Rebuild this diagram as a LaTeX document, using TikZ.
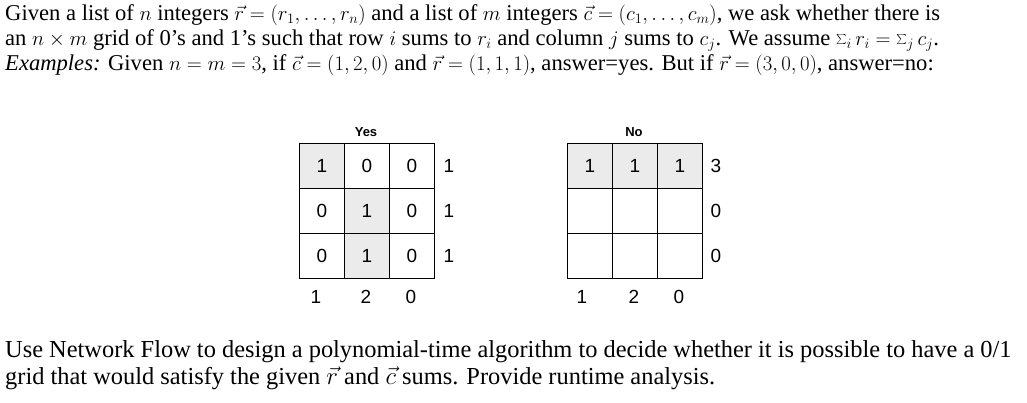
\documentclass[tikz,border=0pt]{standalone}
\usepackage{fontspec}
\setmainfont{Liberation Serif}
\newfontfamily\hv{Liberation Sans}
\begin{document}
\begin{tikzpicture}[x=1pt,y=-1pt,
  txt/.style={anchor=base west,inner sep=0pt,font=\fontsize{22.6}{26}\selectfont},
  txtb/.style={anchor=base west,inner sep=0pt,font=\fontsize{24.4}{28}\selectfont},
  cellbox/.style={draw,line width=0.8pt,minimum size=45pt,inner sep=0pt,anchor=north west,font=\hv\fontsize{19}{22}\selectfont},
  hl/.style={fill=black!8},
  num/.style={inner sep=0pt,font=\hv\fontsize{19}{22}\selectfont},
  ttl/.style={inner sep=0pt,font=\hv\bfseries\fontsize{13}{15}\selectfont}]
\useasboundingbox (0,0) rectangle (1027,402);
\node[txt] (l1) at (5,20) {Given a list of $n$ integers $\vec r=(r_1,\ldots,r_n)$ and a list of $m$ integers $\vec c=(c_1,\ldots,c_m)$, we ask whether there is};
\node[txt] (l2) at (5,45) {an $n\times m$ grid of 0's and 1's such that row $i$ sums to $r_i$ and column $j$ sums to $c_j$. We assume $\sum_i r_i=\sum_j c_j$.};
\node[txt] (l3) at (5,70) {\textit{Examples:} Given $n=m=3$, if $\vec c=(1,2,0)$ and $\vec r=(1,1,1)$, answer=yes. But if $\vec r=(3,0,0)$, answer=no:};
\node[txtb] (l4) at (5,357) {Use Network Flow to design a polynomial-time algorithm to decide whether it is possible to have a 0/1};
\node[txtb] (l5) at (5,384) {grid that would satisfy the given $\vec r$ and $\vec c$ sums. Provide runtime analysis.};
% Yes grid
\node[ttl] (yes) at (366,132) {Yes};
\node[cellbox,hl] (a11) at (299,143) {1};
\node[cellbox] (a12) at (344,143) {0};
\node[cellbox] (a13) at (389,143) {0};
\node[cellbox] (a21) at (299,188) {0};
\node[cellbox,hl] (a22) at (344,188) {1};
\node[cellbox] (a23) at (389,188) {0};
\node[cellbox] (a31) at (299,233) {0};
\node[cellbox,hl] (a32) at (344,233) {1};
\node[cellbox] (a33) at (389,233) {0};
\node[num] (ar1) at (449,165.5) {1};
\node[num] (ar2) at (449,210.5) {1};
\node[num] (ar3) at (449,255.5) {1};
\node[num] (ac1) at (316,297) {1};
\node[num] (ac2) at (366,297) {2};
\node[num] (ac3) at (411,297) {0};
% No grid
\node[ttl] (no) at (634,132) {No};
\node[cellbox,hl] (b11) at (567,143) {1};
\node[cellbox,hl] (b12) at (612,143) {1};
\node[cellbox,hl] (b13) at (657,143) {1};
\node[cellbox] (b21) at (567,188) {};
\node[cellbox] (b22) at (612,188) {};
\node[cellbox] (b23) at (657,188) {};
\node[cellbox] (b31) at (567,233) {};
\node[cellbox] (b32) at (612,233) {};
\node[cellbox] (b33) at (657,233) {};
\node[num] (br1) at (716,165.5) {3};
\node[num] (br2) at (716,210.5) {0};
\node[num] (br3) at (716,255.5) {0};
\node[num] (bc1) at (582,297) {1};
\node[num] (bc2) at (634,297) {2};
\node[num] (bc3) at (679,297) {0};
\end{tikzpicture}
\end{document}
